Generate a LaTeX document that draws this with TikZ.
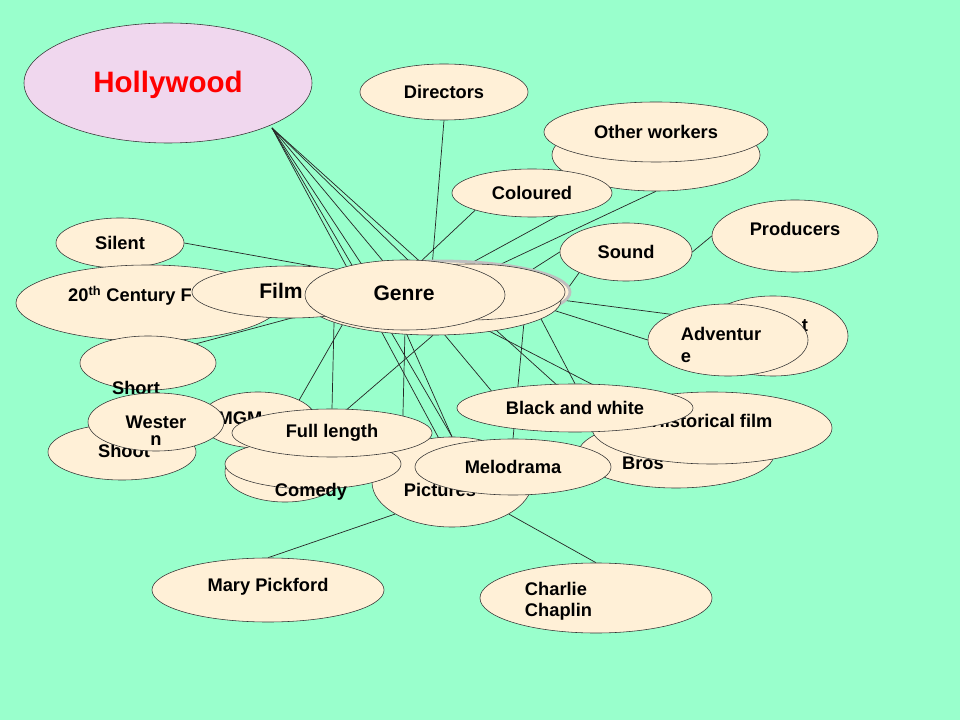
\documentclass[tikz,border=0pt]{standalone}
\usepackage{fontspec}
\setmainfont{Liberation Sans}
\usetikzlibrary{shapes.geometric,backgrounds}
\definecolor{bg}{RGB}{153,255,204}
\definecolor{bub}{RGB}{255,240,215}
\definecolor{holly}{RGB}{240,215,238}
\tikzset{
  bubble/.style={ellipse, draw=black!80, fill=bub, inner sep=0pt},
  word/.style={font=\fontsize{13}{15}\selectfont\bfseries, align=left},
  link/.style={draw=black!85, line width=0.5pt}
}
\newcommand{\bubbleat}[5]{\node[bubble, minimum width=#3*0.05cm, minimum height=#4*0.05cm] (#1) at (#2) {};}
\begin{document}
\begin{tikzpicture}[x=0.025cm, y=-0.025cm]
  \useasboundingbox (0,0) rectangle (960,720);

  % --- BUBBLES, back to front ---
  \node[ellipse, draw=black!80, fill=holly, minimum width=288*0.025cm, minimum height=120*0.025cm] (hollywood) at (168,83) {};
  \node[text=red, font=\fontsize{21}{24}\selectfont\bfseries] (hollytxt) at (168,85) {Hollywood};
  \bubbleat{directors}{444,92}{84}{28}{}
  \bubbleat{workersb}{656,155}{104}{36}{}
  \bubbleat{workers}{656,132}{112}{30}{}
  \bubbleat{coloured}{532,193}{80}{24}{}
  \bubbleat{producers}{795,236}{83}{36}{}
  \bubbleat{sound}{626,252}{66}{29}{}
  \bubbleat{silent}{120,243}{64}{25}{}
  \bubbleat{fox}{148,303}{132}{38}{}
  \bubbleat{shortb}{148,363}{68}{27}{}
  \bubbleat{shoot}{122,452}{74}{28}{}
  \bubbleat{mgm}{258,420}{58}{28}{}
  \bubbleat{feature}{773,336}{75}{40}{}
  \node[word] (featuretxt) at (805,326) {t};
  \bubbleat{adventure}{728,340}{80}{36}{}
  \node[word] (shorttxt) at (136,388) {Short};
  \node[word] (foxtxt) at (130,296) {20\textsuperscript{th} Century F};

  % central cluster
  \node[ellipse, draw=black!25, line width=2pt, fill=bub, minimum width=260*0.025cm, minimum height=62*0.025cm] (clusterb) at (440,292) {};
  \bubbleat{clustera}{433,300}{128}{35}{}
  \bubbleat{clusterc}{470,292}{95}{28}{}
  \bubbleat{film}{290,292}{98}{26}{}
  \node[word, font=\fontsize{15}{17}\selectfont\bfseries] (filmtxt) at (281,291) {Film};
  \bubbleat{genre}{405,295}{100}{35}{}
  \node[word, font=\fontsize{15}{17}\selectfont\bfseries] (genretxt) at (404,293) {Genre};
  \node[word] (shoottxt) at (124,451) {Shoot};
  \node[word] (mgmtxt) at (240,418) {MGM};

  \bubbleat{western}{156,422}{68}{29}{}
  \node[word, align=center] (westerntxt) at (156,431) {Wester\\[-3pt]n};
  \bubbleat{comedyb}{285,472}{60}{30}{}
  \bubbleat{pictures}{452,482}{80}{45}{}
  \node[word] (picturestxt) at (440,490) {Pictures};
  \bubbleat{comedy}{313,464}{88}{25}{}
  \node[word] (comedytxt) at (311,492) {Comedy};
  \bubbleat{fulllength}{332,433}{100}{24}{}
  \bubbleat{warner}{676,454}{98}{34}{}
  \node[word] (warnertxt) at (643,463) {Bros};
  \bubbleat{historical}{712,428}{120}{36}{}
  \node[word] (historicaltxt) at (712,421) {Historical film};
  \bubbleat{bw}{575,408}{118}{24}{}
  \bubbleat{melodrama}{513,467}{98}{28}{}
  \bubbleat{mary}{268,590}{116}{32}{}
  \bubbleat{charlie}{596,598}{116}{35}{}

  % --- TEXTS ---
  \node[word] at (directors) {Directors};
  \node[word] at (workers) {Other workers};
  \node[word] at (coloured) {Coloured};
  \node[word] at ([yshift=5]producers) {Producers};
  \node[word] at (sound) {Sound};
  \node[word] at (silent) {Silent};
  \node[word, anchor=west] at (676,345) {Adventur\\e};
  \node[word] at (fulllength) {Full length};
  \node[word] at (bw) {Black and white};
  \node[word] at (melodrama) {Melodrama};
  \node[word] at ([yshift=2]mary) {Mary Pickford};
  \node[word, anchor=west] at (520,601) {Charlie\\Chaplin};

  % --- LINKS (behind) ---
  \begin{scope}[on background layer]
    \fill[bg] (0,0) rectangle (960,720);
    \foreach \t in {genre.south, clusterc.south, bw.north west, pictures.north, warner.north west, melodrama.north west}
      \draw[link] (272,128) -- (\t);
    \draw[link] (directors.south) -- (430,292);
    \draw[link] (coloured.south west) -- (film.east);
    \draw[link] (workersb.south) -- (genretxt.east);
    \draw[link] (workers.south) -- (clusterc.north);
    \draw[link] (sound.west) -- (clusterb.north east);
    \draw[link] (sound.south west) -- (clusterc.east);
    \draw[link] (producers.west) -- (sound.east);
    \draw[link] (silent.east) -- (genre.north west);
    \draw[link] (genre.east) -- (adventure.west);
    \draw[link] (clustera.east) -- (adventure.north west);
    \draw[link] (genretxt.south east) -- (historical.north west);
    \draw[link] (shortb.north east) -- (film.east);
    \draw[link] (mgm.north east) -- (clustera.south west);
    \draw[link] (fulllength.north) -- (genre.south west);
    \draw[link] (fulllength.north east) -- (genre.south);
    \draw[link] (comedy.north) -- (clustera.south);
    \draw[link] (pictures.north) -- (genre.south);
    \draw[link] (melodrama.north) -- (clustera.south east);
    \draw[link] (bw.north) -- (clusterc.south east);
    \draw[link] (pictures.south west) -- (mary.north);
    \draw[link] (pictures.south east) -- (charlie.north);
  \end{scope}
\end{tikzpicture}
\end{document}
